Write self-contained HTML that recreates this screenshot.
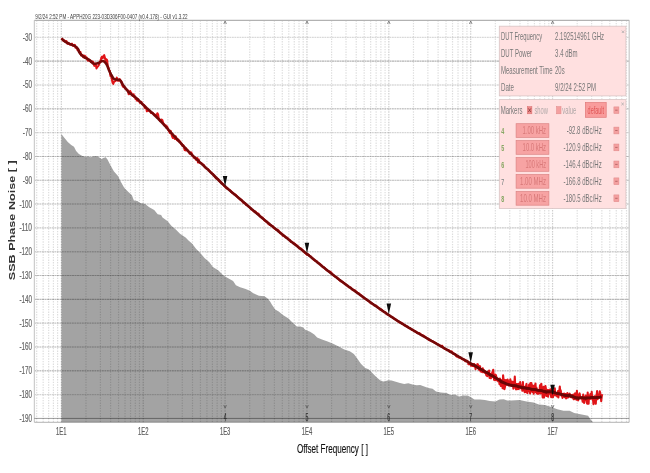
<!DOCTYPE html>
<html><head><meta charset="utf-8"><title>Phase Noise</title>
<style>html,body{margin:0;padding:0;background:#fff;}body{width:650px;height:473px;overflow:hidden;font-family:"Liberation Sans",sans-serif;}svg{display:block;filter:blur(0.6px);}text{font-family:"Liberation Sans",sans-serif;}</style></head><body>
<svg width="650" height="473" viewBox="0 0 650 473">
<rect x="0" y="0" width="650" height="473" fill="#ffffff"/>
<path d="M61.4 422.3 L61.4 133.9 L64.3 137.8 L67.8 141.9 L71.2 145.0 L74.0 146.8 L76.1 151.0 L78.9 154.1 L82.4 155.9 L85.9 157.0 L88.0 156.5 L90.8 157.3 L94.3 156.3 L97.0 156.3 L99.8 157.7 L101.5 159.0 L103.3 158.0 L105.7 157.3 L107.5 159.4 L110.3 165.0 L113.8 171.2 L118.0 176.1 L120.8 181.7 L124.2 187.7 L128.4 191.9 L131.9 195.3 L133.9 200.6 L137.4 200.9 L140.2 203.0 L145.1 204.0 L149.3 207.2 L154.2 210.0 L157.7 214.2 L161.1 214.9 L162.5 217.4 L167.4 221.1 L171.6 226.0 L175.8 229.5 L180.0 233.7 L185.6 237.5 L188.5 240.6 L192.0 243.4 L196.2 248.9 L200.3 253.1 L204.5 258.0 L209.4 262.2 L212.9 267.1 L218.5 270.6 L223.4 275.4 L228.2 278.2 L233.1 281.0 L235.9 285.2 L240.1 287.3 L245.0 288.7 L249.9 290.8 L253.3 293.3 L258.9 295.7 L264.5 296.2 L267.3 298.2 L270.1 301.5 L271.8 304.6 L275.2 309.5 L278.7 311.6 L282.9 315.1 L288.5 318.6 L292.7 322.8 L296.9 326.5 L300.4 326.5 L303.1 327.4 L305.2 329.7 L310.1 331.8 L314.3 334.6 L317.1 337.4 L322.0 339.5 L327.6 341.6 L333.1 343.7 L338.7 346.5 L344.3 349.5 L349.8 351.2 L353.9 353.9 L357.4 358.8 L360.9 363.7 L365.1 367.9 L368.6 369.3 L372.1 372.8 L376.3 377.0 L380.4 380.4 L383.2 381.6 L386.0 381.1 L388.1 380.2 L391.6 380.4 L395.8 381.8 L400.0 383.0 L404.2 383.9 L408.3 383.2 L412.5 384.4 L416.7 385.3 L420.2 385.0 L424.2 386.5 L428.4 387.9 L432.6 388.8 L436.0 391.6 L440.9 392.6 L446.5 393.0 L450.7 395.1 L454.9 394.4 L459.1 396.5 L463.2 395.4 L468.1 395.8 L470.9 397.2 L474.4 399.6 L480.0 399.6 L484.9 400.0 L489.7 401.0 L495.3 401.4 L499.5 399.6 L503.7 399.2 L507.2 400.4 L511.2 400.5 L519.6 400.0 L526.5 401.5 L533.5 402.6 L538.8 404.6 L545.0 405.1 L551.2 406.9 L557.3 409.2 L563.5 410.8 L569.6 410.8 L574.2 413.1 L580.4 414.3 L588.1 415.8 L590.4 419.2 L593.0 422.3 Z" fill="#a3a3a3"/>
<defs><filter id="gb" x="-2%" y="-2%" width="104%" height="104%"><feGaussianBlur stdDeviation="0.4"/></filter></defs>
<g filter="url(#gb)"><line x1="34.4" y1="37.35" x2="629.2" y2="37.35" stroke="#000" stroke-opacity="0.15" stroke-width="1.4" stroke-dasharray="1.9 0.6"/><line x1="34.4" y1="61.17" x2="629.2" y2="61.17" stroke="#000" stroke-opacity="0.3" stroke-width="1.1" stroke-dasharray="2.1 0.4"/><line x1="34.4" y1="84.98" x2="629.2" y2="84.98" stroke="#000" stroke-opacity="0.15" stroke-width="1.4" stroke-dasharray="1.9 0.6"/><line x1="34.4" y1="108.80" x2="629.2" y2="108.80" stroke="#000" stroke-opacity="0.22" stroke-width="1.4" stroke-dasharray="1.9 0.6"/><line x1="34.4" y1="132.61" x2="629.2" y2="132.61" stroke="#000" stroke-opacity="0.16" stroke-width="1.4" stroke-dasharray="1.9 0.6"/><line x1="34.4" y1="156.43" x2="629.2" y2="156.43" stroke="#000" stroke-opacity="0.27" stroke-width="1.1" stroke-dasharray="2.1 0.4"/><line x1="34.4" y1="180.25" x2="629.2" y2="180.25" stroke="#000" stroke-opacity="0.27" stroke-width="1.1" stroke-dasharray="2.1 0.4"/><line x1="34.4" y1="204.06" x2="629.2" y2="204.06" stroke="#000" stroke-opacity="0.19" stroke-width="1.4" stroke-dasharray="1.9 0.6"/><line x1="34.4" y1="227.88" x2="629.2" y2="227.88" stroke="#000" stroke-opacity="0.22" stroke-width="1.4" stroke-dasharray="1.9 0.6"/><line x1="34.4" y1="251.69" x2="629.2" y2="251.69" stroke="#000" stroke-opacity="0.19" stroke-width="1.4" stroke-dasharray="1.9 0.6"/><line x1="34.4" y1="275.51" x2="629.2" y2="275.51" stroke="#000" stroke-opacity="0.27" stroke-width="1.1" stroke-dasharray="2.1 0.4"/><line x1="34.4" y1="299.33" x2="629.2" y2="299.33" stroke="#000" stroke-opacity="0.27" stroke-width="1.1" stroke-dasharray="2.1 0.4"/><line x1="34.4" y1="323.14" x2="629.2" y2="323.14" stroke="#000" stroke-opacity="0.23" stroke-width="1.4" stroke-dasharray="1.9 0.6"/><line x1="34.4" y1="346.96" x2="629.2" y2="346.96" stroke="#000" stroke-opacity="0.2" stroke-width="1.4" stroke-dasharray="1.9 0.6"/><line x1="34.4" y1="370.77" x2="629.2" y2="370.77" stroke="#000" stroke-opacity="0.23" stroke-width="1.4" stroke-dasharray="1.9 0.6"/><line x1="34.4" y1="394.59" x2="629.2" y2="394.59" stroke="#000" stroke-opacity="0.17" stroke-width="1.4" stroke-dasharray="1.9 0.6"/><line x1="34.4" y1="418.41" x2="629.2" y2="418.41" stroke="#000" stroke-opacity="0.0" stroke-width="1.4" stroke-dasharray="1.9 0.6"/><line x1="36.69" y1="20.3" x2="36.69" y2="422.3" stroke="#000" stroke-opacity="0.13" stroke-width="1.2" stroke-dasharray="1.4 1.2"/><line x1="43.18" y1="20.3" x2="43.18" y2="422.3" stroke="#000" stroke-opacity="0.13" stroke-width="1.2" stroke-dasharray="1.4 1.2"/><line x1="48.66" y1="20.3" x2="48.66" y2="422.3" stroke="#000" stroke-opacity="0.13" stroke-width="1.2" stroke-dasharray="1.4 1.2"/><line x1="53.41" y1="20.3" x2="53.41" y2="422.3" stroke="#000" stroke-opacity="0.13" stroke-width="1.2" stroke-dasharray="1.4 1.2"/><line x1="57.59" y1="20.3" x2="57.59" y2="422.3" stroke="#000" stroke-opacity="0.13" stroke-width="1.2" stroke-dasharray="1.4 1.2"/><line x1="61.34" y1="20.3" x2="61.34" y2="422.3" stroke="#000" stroke-opacity="0.19" stroke-width="1.2" stroke-dasharray="1.5 1.1"/><line x1="85.99" y1="20.3" x2="85.99" y2="422.3" stroke="#000" stroke-opacity="0.13" stroke-width="1.2" stroke-dasharray="1.4 1.2"/><line x1="100.40" y1="20.3" x2="100.40" y2="422.3" stroke="#000" stroke-opacity="0.13" stroke-width="1.2" stroke-dasharray="1.4 1.2"/><line x1="110.63" y1="20.3" x2="110.63" y2="422.3" stroke="#000" stroke-opacity="0.13" stroke-width="1.2" stroke-dasharray="1.4 1.2"/><line x1="118.56" y1="20.3" x2="118.56" y2="422.3" stroke="#000" stroke-opacity="0.13" stroke-width="1.2" stroke-dasharray="1.4 1.2"/><line x1="125.05" y1="20.3" x2="125.05" y2="422.3" stroke="#000" stroke-opacity="0.13" stroke-width="1.2" stroke-dasharray="1.4 1.2"/><line x1="130.53" y1="20.3" x2="130.53" y2="422.3" stroke="#000" stroke-opacity="0.13" stroke-width="1.2" stroke-dasharray="1.4 1.2"/><line x1="135.28" y1="20.3" x2="135.28" y2="422.3" stroke="#000" stroke-opacity="0.13" stroke-width="1.2" stroke-dasharray="1.4 1.2"/><line x1="139.46" y1="20.3" x2="139.46" y2="422.3" stroke="#000" stroke-opacity="0.13" stroke-width="1.2" stroke-dasharray="1.4 1.2"/><line x1="143.21" y1="20.3" x2="143.21" y2="422.3" stroke="#000" stroke-opacity="0.19" stroke-width="1.2" stroke-dasharray="1.5 1.1"/><line x1="167.86" y1="20.3" x2="167.86" y2="422.3" stroke="#000" stroke-opacity="0.13" stroke-width="1.2" stroke-dasharray="1.4 1.2"/><line x1="182.27" y1="20.3" x2="182.27" y2="422.3" stroke="#000" stroke-opacity="0.13" stroke-width="1.2" stroke-dasharray="1.4 1.2"/><line x1="192.50" y1="20.3" x2="192.50" y2="422.3" stroke="#000" stroke-opacity="0.13" stroke-width="1.2" stroke-dasharray="1.4 1.2"/><line x1="200.43" y1="20.3" x2="200.43" y2="422.3" stroke="#000" stroke-opacity="0.13" stroke-width="1.2" stroke-dasharray="1.4 1.2"/><line x1="206.92" y1="20.3" x2="206.92" y2="422.3" stroke="#000" stroke-opacity="0.13" stroke-width="1.2" stroke-dasharray="1.4 1.2"/><line x1="212.40" y1="20.3" x2="212.40" y2="422.3" stroke="#000" stroke-opacity="0.13" stroke-width="1.2" stroke-dasharray="1.4 1.2"/><line x1="217.15" y1="20.3" x2="217.15" y2="422.3" stroke="#000" stroke-opacity="0.13" stroke-width="1.2" stroke-dasharray="1.4 1.2"/><line x1="221.33" y1="20.3" x2="221.33" y2="422.3" stroke="#000" stroke-opacity="0.13" stroke-width="1.2" stroke-dasharray="1.4 1.2"/><line x1="225.08" y1="20.3" x2="225.08" y2="422.3" stroke="#000" stroke-opacity="0.19" stroke-width="1.2" stroke-dasharray="1.5 1.1"/><line x1="249.73" y1="20.3" x2="249.73" y2="422.3" stroke="#000" stroke-opacity="0.13" stroke-width="1.2" stroke-dasharray="1.4 1.2"/><line x1="264.14" y1="20.3" x2="264.14" y2="422.3" stroke="#000" stroke-opacity="0.13" stroke-width="1.2" stroke-dasharray="1.4 1.2"/><line x1="274.37" y1="20.3" x2="274.37" y2="422.3" stroke="#000" stroke-opacity="0.13" stroke-width="1.2" stroke-dasharray="1.4 1.2"/><line x1="282.30" y1="20.3" x2="282.30" y2="422.3" stroke="#000" stroke-opacity="0.13" stroke-width="1.2" stroke-dasharray="1.4 1.2"/><line x1="288.79" y1="20.3" x2="288.79" y2="422.3" stroke="#000" stroke-opacity="0.13" stroke-width="1.2" stroke-dasharray="1.4 1.2"/><line x1="294.27" y1="20.3" x2="294.27" y2="422.3" stroke="#000" stroke-opacity="0.13" stroke-width="1.2" stroke-dasharray="1.4 1.2"/><line x1="299.02" y1="20.3" x2="299.02" y2="422.3" stroke="#000" stroke-opacity="0.13" stroke-width="1.2" stroke-dasharray="1.4 1.2"/><line x1="303.20" y1="20.3" x2="303.20" y2="422.3" stroke="#000" stroke-opacity="0.13" stroke-width="1.2" stroke-dasharray="1.4 1.2"/><line x1="306.95" y1="20.3" x2="306.95" y2="422.3" stroke="#000" stroke-opacity="0.19" stroke-width="1.2" stroke-dasharray="1.5 1.1"/><line x1="331.60" y1="20.3" x2="331.60" y2="422.3" stroke="#000" stroke-opacity="0.13" stroke-width="1.2" stroke-dasharray="1.4 1.2"/><line x1="346.01" y1="20.3" x2="346.01" y2="422.3" stroke="#000" stroke-opacity="0.13" stroke-width="1.2" stroke-dasharray="1.4 1.2"/><line x1="356.24" y1="20.3" x2="356.24" y2="422.3" stroke="#000" stroke-opacity="0.13" stroke-width="1.2" stroke-dasharray="1.4 1.2"/><line x1="364.17" y1="20.3" x2="364.17" y2="422.3" stroke="#000" stroke-opacity="0.13" stroke-width="1.2" stroke-dasharray="1.4 1.2"/><line x1="370.66" y1="20.3" x2="370.66" y2="422.3" stroke="#000" stroke-opacity="0.13" stroke-width="1.2" stroke-dasharray="1.4 1.2"/><line x1="376.14" y1="20.3" x2="376.14" y2="422.3" stroke="#000" stroke-opacity="0.13" stroke-width="1.2" stroke-dasharray="1.4 1.2"/><line x1="380.89" y1="20.3" x2="380.89" y2="422.3" stroke="#000" stroke-opacity="0.13" stroke-width="1.2" stroke-dasharray="1.4 1.2"/><line x1="385.07" y1="20.3" x2="385.07" y2="422.3" stroke="#000" stroke-opacity="0.13" stroke-width="1.2" stroke-dasharray="1.4 1.2"/><line x1="388.82" y1="20.3" x2="388.82" y2="422.3" stroke="#000" stroke-opacity="0.19" stroke-width="1.2" stroke-dasharray="1.5 1.1"/><line x1="413.47" y1="20.3" x2="413.47" y2="422.3" stroke="#000" stroke-opacity="0.13" stroke-width="1.2" stroke-dasharray="1.4 1.2"/><line x1="427.88" y1="20.3" x2="427.88" y2="422.3" stroke="#000" stroke-opacity="0.13" stroke-width="1.2" stroke-dasharray="1.4 1.2"/><line x1="438.11" y1="20.3" x2="438.11" y2="422.3" stroke="#000" stroke-opacity="0.13" stroke-width="1.2" stroke-dasharray="1.4 1.2"/><line x1="446.04" y1="20.3" x2="446.04" y2="422.3" stroke="#000" stroke-opacity="0.13" stroke-width="1.2" stroke-dasharray="1.4 1.2"/><line x1="452.53" y1="20.3" x2="452.53" y2="422.3" stroke="#000" stroke-opacity="0.13" stroke-width="1.2" stroke-dasharray="1.4 1.2"/><line x1="458.01" y1="20.3" x2="458.01" y2="422.3" stroke="#000" stroke-opacity="0.13" stroke-width="1.2" stroke-dasharray="1.4 1.2"/><line x1="462.76" y1="20.3" x2="462.76" y2="422.3" stroke="#000" stroke-opacity="0.13" stroke-width="1.2" stroke-dasharray="1.4 1.2"/><line x1="466.94" y1="20.3" x2="466.94" y2="422.3" stroke="#000" stroke-opacity="0.13" stroke-width="1.2" stroke-dasharray="1.4 1.2"/><line x1="470.69" y1="20.3" x2="470.69" y2="422.3" stroke="#000" stroke-opacity="0.19" stroke-width="1.2" stroke-dasharray="1.5 1.1"/><line x1="495.34" y1="20.3" x2="495.34" y2="422.3" stroke="#000" stroke-opacity="0.13" stroke-width="1.2" stroke-dasharray="1.4 1.2"/><line x1="509.75" y1="20.3" x2="509.75" y2="422.3" stroke="#000" stroke-opacity="0.13" stroke-width="1.2" stroke-dasharray="1.4 1.2"/><line x1="519.98" y1="20.3" x2="519.98" y2="422.3" stroke="#000" stroke-opacity="0.13" stroke-width="1.2" stroke-dasharray="1.4 1.2"/><line x1="527.91" y1="20.3" x2="527.91" y2="422.3" stroke="#000" stroke-opacity="0.13" stroke-width="1.2" stroke-dasharray="1.4 1.2"/><line x1="534.40" y1="20.3" x2="534.40" y2="422.3" stroke="#000" stroke-opacity="0.13" stroke-width="1.2" stroke-dasharray="1.4 1.2"/><line x1="539.88" y1="20.3" x2="539.88" y2="422.3" stroke="#000" stroke-opacity="0.13" stroke-width="1.2" stroke-dasharray="1.4 1.2"/><line x1="544.63" y1="20.3" x2="544.63" y2="422.3" stroke="#000" stroke-opacity="0.13" stroke-width="1.2" stroke-dasharray="1.4 1.2"/><line x1="548.81" y1="20.3" x2="548.81" y2="422.3" stroke="#000" stroke-opacity="0.13" stroke-width="1.2" stroke-dasharray="1.4 1.2"/><line x1="552.56" y1="20.3" x2="552.56" y2="422.3" stroke="#000" stroke-opacity="0.19" stroke-width="1.2" stroke-dasharray="1.5 1.1"/><line x1="577.21" y1="20.3" x2="577.21" y2="422.3" stroke="#000" stroke-opacity="0.13" stroke-width="1.2" stroke-dasharray="1.4 1.2"/><line x1="591.62" y1="20.3" x2="591.62" y2="422.3" stroke="#000" stroke-opacity="0.13" stroke-width="1.2" stroke-dasharray="1.4 1.2"/><line x1="601.85" y1="20.3" x2="601.85" y2="422.3" stroke="#000" stroke-opacity="0.13" stroke-width="1.2" stroke-dasharray="1.4 1.2"/><line x1="609.78" y1="20.3" x2="609.78" y2="422.3" stroke="#000" stroke-opacity="0.13" stroke-width="1.2" stroke-dasharray="1.4 1.2"/><line x1="616.27" y1="20.3" x2="616.27" y2="422.3" stroke="#000" stroke-opacity="0.13" stroke-width="1.2" stroke-dasharray="1.4 1.2"/><line x1="621.75" y1="20.3" x2="621.75" y2="422.3" stroke="#000" stroke-opacity="0.13" stroke-width="1.2" stroke-dasharray="1.4 1.2"/><line x1="626.50" y1="20.3" x2="626.50" y2="422.3" stroke="#000" stroke-opacity="0.13" stroke-width="1.2" stroke-dasharray="1.4 1.2"/></g>
<path d="M34.4 422.3 L34.4 20.3 M629.2 20.3 L629.2 422.3" fill="none" stroke="#cdcdcd" stroke-width="1.3"/>
<path d="M34.4 20.3 L629.2 20.3" fill="none" stroke="#b2b2b2" stroke-width="1.2"/>
<line x1="34.4" y1="422.3" x2="629.2" y2="422.3" stroke="#000" stroke-opacity="0.3" stroke-width="1"/>
<line x1="34.4" y1="418.41" x2="629.2" y2="418.41" stroke="#000" stroke-opacity="0.38" stroke-width="1"/>
<path d="M61.5 39.9 L62.2 38.8 L62.9 39.9 L63.6 40.8 L64.3 40.4 L65.0 41.5 L65.7 42.0 L66.4 41.0 L67.1 43.6 L67.8 43.6 L68.5 42.9 L69.2 43.6 L69.9 44.5 L70.6 44.2 L71.3 44.5 L72.0 43.7 L72.7 45.6 L73.4 45.5 L74.1 45.9 L74.8 44.8 L75.5 47.8 L76.2 47.1 L76.9 47.4 L77.6 50.2 L78.3 49.8 L79.0 50.6 L79.7 52.6 L80.4 52.0 L81.1 55.4 L81.8 54.9 L82.5 55.2 L83.2 57.2 L83.9 55.5 L84.6 57.8 L85.3 56.1 L86.0 57.6 L86.7 57.5 L87.4 60.0 L88.1 60.6 L88.8 59.4 L89.5 60.8 L90.2 60.6 L90.9 61.9 L91.6 61.5 L92.3 61.5 L93.0 61.9 L93.7 64.1 L94.4 65.8 L95.1 64.7 L95.8 64.6 L96.5 68.4 L97.2 67.0 L97.9 66.5 L98.6 65.5 L99.3 63.6 L100.0 62.2 L100.7 60.2 L101.4 57.7 L102.1 56.7 L102.8 58.1 L103.5 56.5 L104.2 55.2 L104.9 57.8 L105.6 60.7 L106.3 59.3 L107.0 60.0 L107.7 65.5 L108.4 67.5 L109.1 70.2 L109.8 71.0 L110.5 76.1 L111.2 76.4 L111.9 79.2 L112.6 82.7 L113.3 83.8 L114.0 81.6 L114.7 81.4 L115.4 81.1 L116.1 79.6 L116.8 77.7 L117.5 80.5 L118.2 80.8 L118.9 80.4 L119.6 79.0 L120.3 80.3 L121.0 80.8 L121.7 82.4 L122.4 85.5 L123.1 86.8 L123.8 86.7 L124.5 87.6 L125.2 88.6 L125.9 88.8 L126.6 89.6 L127.3 89.7 L128.0 91.2 L128.7 94.3 L129.4 92.3 L130.1 91.0 L130.8 92.3 L131.5 93.3 L132.2 95.4 L132.9 95.9 L133.6 94.3 L134.3 97.1 L135.0 96.4 L135.7 99.2 L136.4 98.4 L137.1 100.8 L137.8 99.0 L138.5 99.9 L139.2 101.2 L139.9 102.8 L140.6 102.8 L141.3 101.9 L142.0 103.8 L142.7 104.4 L143.4 104.6 L144.1 105.1 L144.8 107.9 L145.5 106.9 L146.2 108.1 L146.9 111.2 L147.6 110.6 L148.3 109.9 L149.0 110.9 L149.7 111.2 L150.4 111.7 L151.1 112.9 L151.8 112.9 L152.5 112.7 L153.2 113.6 L153.9 114.1 L154.6 115.4 L155.3 114.9 L156.0 114.6 L156.7 115.7 L157.4 113.3 L158.1 114.6 L158.8 119.2 L159.5 119.3 L160.2 121.1 L160.9 120.4 L161.6 119.5 L162.3 120.0 L163.0 122.5 L163.7 124.1 L164.4 124.5 L165.1 125.7 L165.8 125.4 L166.5 127.6 L167.2 126.7 L167.9 128.9 L168.6 130.5 L169.3 131.7 L170.0 133.0 L170.7 130.9 L171.4 134.0 L172.1 136.1 L172.8 137.9 L173.5 137.1 L174.2 137.8 L174.9 138.8 L175.6 136.3 L176.3 138.7 L177.0 140.1 L177.7 139.2 L178.4 141.1 L179.1 140.4 L179.8 141.4 L180.5 142.2 L181.2 143.8 L181.9 144.3 L182.6 146.0 L183.3 145.2 L184.0 147.3 L184.7 150.1 L185.4 150.4 L186.1 148.3 L186.8 150.3 L187.5 150.0 L188.2 151.5 L188.9 152.1 L189.6 153.6 L190.3 153.4 L191.0 152.3 L191.7 153.4 L192.4 156.0 L193.1 155.8 L193.8 157.7 L194.5 157.6 L195.2 157.3 L195.9 159.6 L196.6 158.6 L197.3 158.1 L198.0 162.4 L198.7 159.5 L199.4 162.4 L200.1 163.0 L200.8 163.0 L201.5 163.3 L202.2 164.2 L202.9 164.4 L203.6 164.8 L204.3 166.0 L205.0 167.2 L205.7 168.0 L206.4 168.5 L207.1 168.8 L207.8 169.2 L208.5 169.7 L209.2 170.6 L209.9 171.6 L210.6 172.3 L211.3 172.9 L212.0 173.3 L212.7 173.9 L213.4 174.8 L214.1 175.7 L214.8 176.6 L215.5 177.5 L216.2 178.4 L216.9 178.6 L217.6 178.8 L218.3 179.4 L219.0 180.5 L219.7 181.3 L220.4 181.8 L221.1 182.6 L221.8 183.5 L222.5 183.9 L223.2 184.6 L223.9 185.5 L224.6 186.2 L225.3 186.9 L226.0 187.9 L226.7 188.4 L227.4 188.4 L228.1 188.8 L228.8 189.6 L229.5 189.9 L230.2 190.3 L230.9 191.5 L231.6 192.4 L232.3 192.6 L233.0 193.1 L233.7 193.9 L234.4 194.3 L235.1 194.5 L235.8 194.9 L236.5 195.7 L237.2 196.5 L237.9 197.2 L238.6 198.0 L239.3 198.7 L240.0 199.3 L240.7 199.5 L241.4 199.8 L242.1 200.8 L242.8 201.9 L243.5 202.7 L244.2 202.8 L244.9 202.8 L245.6 203.9 L246.3 205.1 L247.0 205.3 L247.7 205.6 L248.4 206.2 L249.1 206.9 L249.8 207.6 L250.5 208.5 L251.2 209.3 L251.9 209.6 L252.6 209.8 L253.3 210.8 L254.0 211.4 L254.7 211.6 L255.4 211.6 L256.1 212.2 L256.8 213.3 L257.5 213.7 L258.2 213.5 L258.9 214.2 L259.6 215.6 L260.3 216.7 L261.0 217.2 L261.7 217.6 L262.4 217.6 L263.1 218.2 L263.8 219.5 L264.5 220.3 L265.2 220.8 L265.9 221.4 L266.6 221.5 L267.3 222.1 L268.0 223.4 L268.7 224.2 L269.4 224.6 L270.1 225.0 L270.8 225.3 L271.5 225.7 L272.2 226.0 L272.9 226.3 L273.6 227.4 L274.3 228.3 L275.0 228.6 L275.7 229.3 L276.4 229.9 L277.1 229.8 L277.8 229.9 L278.5 230.6 L279.2 231.6 L279.9 232.8 L280.6 233.3 L281.3 233.3 L282.0 234.3 L282.7 235.6 L283.4 235.5 L284.1 235.5 L284.8 236.5 L285.5 237.3 L286.2 237.6 L286.9 237.6 L287.6 238.2 L288.3 239.2 L289.0 239.6 L289.7 240.0 L290.4 241.2 L291.1 241.9 L291.8 242.0 L292.5 242.5 L293.2 243.0 L293.9 243.2 L294.6 243.7 L295.3 244.4 L296.0 244.9 L296.7 245.5 L297.4 245.9 L298.1 246.6 L298.8 247.8 L299.5 248.5 L300.2 248.4 L300.9 248.6 L301.6 249.2 L302.3 249.8 L303.0 250.6 L303.7 251.5 L304.4 252.3 L305.1 252.8 L305.8 253.3 L306.5 254.3 L307.2 254.9 L307.9 254.6 L308.6 254.6 L309.3 255.5 L310.0 256.1 L310.7 256.4 L311.4 257.2 L312.1 257.9 L312.8 258.5 L313.5 259.3 L314.2 260.0 L314.9 260.3 L315.6 260.8 L316.3 261.2 L317.0 261.7 L317.7 262.6 L318.4 263.2 L319.1 263.4 L319.8 263.8 L320.5 264.5 L321.2 265.1 L321.9 266.0 L322.6 267.0 L323.3 267.2 L324.0 267.2 L324.7 267.9 L325.4 268.9 L326.1 269.6 L326.8 270.2 L327.5 270.8 L328.2 271.1 L328.9 271.4 L329.6 271.5 L330.3 271.7 L331.0 272.5 L331.7 273.6 L332.4 274.3 L333.1 274.9 L333.8 275.5 L334.5 276.1 L335.2 276.6 L335.9 276.9 L336.6 277.2 L337.3 277.8 L338.0 278.7 L338.7 279.3 L339.4 280.0 L340.1 280.8 L340.8 281.2 L341.5 281.5 L342.2 281.8 L342.9 282.1 L343.6 282.8 L344.3 283.3 L345.0 283.7 L345.7 284.4 L346.4 285.0 L347.1 285.5 L347.8 286.0 L348.5 286.8 L349.2 287.3 L349.9 287.3 L350.6 287.5 L351.3 288.4 L352.0 289.2 L352.7 289.5 L353.4 289.9 L354.1 290.3 L354.8 290.4 L355.5 290.9 L356.2 291.7 L356.9 292.4 L357.6 292.8 L358.3 293.2 L359.0 293.7 L359.7 294.2 L360.4 294.9 L361.1 295.4 L361.8 295.9 L362.5 296.5 L363.2 297.3 L363.9 297.8 L364.6 298.3 L365.3 298.7 L366.0 299.1 L366.7 299.7 L367.4 300.3 L368.1 300.7 L368.8 301.0 L369.5 301.6 L370.2 302.5 L370.9 303.2 L371.6 303.3 L372.3 303.6 L373.0 304.2 L373.7 304.8 L374.4 305.4 L375.1 305.6 L375.8 305.5 L376.5 306.0 L377.2 306.8 L377.9 307.3 L378.6 307.8 L379.3 308.4 L380.0 309.4 L380.7 309.7 L381.4 309.5 L382.1 310.1 L382.8 311.0 L383.5 311.4 L384.2 311.7 L384.9 311.9 L385.6 312.6 L386.3 313.6 L387.0 314.2 L387.7 314.4 L388.4 314.6 L389.1 315.1 L389.8 315.7 L390.5 316.3 L391.2 316.7 L391.9 317.0 L392.6 317.4 L393.3 317.9 L394.0 318.7 L394.7 319.2 L395.4 319.3 L396.1 319.7 L396.8 320.3 L397.5 321.0 L398.2 321.5 L398.9 321.8 L399.6 322.3 L400.3 322.5 L401.0 322.7 L401.7 323.2 L402.4 323.7 L403.1 324.2 L403.8 324.6 L404.5 325.1 L405.2 325.8 L405.9 326.2 L406.6 326.2 L407.3 326.5 L408.0 327.4 L408.7 328.0 L409.4 328.0 L410.1 328.2 L410.8 329.0 L411.5 329.5 L412.2 329.5 L412.9 330.0 L413.6 330.4 L414.3 330.8 L415.0 331.2 L415.7 331.6 L416.4 332.2 L417.1 333.0 L417.8 333.1 L418.5 333.0 L419.2 333.1 L419.9 333.5 L420.6 334.2 L421.3 335.1 L422.0 335.4 L422.7 335.4 L423.4 335.6 L424.1 336.2 L424.8 336.7 L425.5 337.3 L426.2 338.0 L426.9 338.1 L427.6 338.4 L428.3 339.2 L429.0 340.0 L429.7 340.3 L430.4 340.3 L431.1 340.6 L431.8 341.2 L432.5 341.6 L433.2 341.8 L433.9 341.9 L434.6 342.2 L435.3 342.8 L436.0 343.3 L436.7 344.0 L437.4 344.3 L438.1 344.4 L438.8 344.8 L439.5 345.3 L440.2 345.9 L440.9 346.3 L441.6 345.8 L442.3 345.9 L443.0 347.2 L443.7 347.9 L444.4 348.4 L445.1 348.9 L445.8 349.3 L446.5 349.7 L447.2 349.7 L447.9 350.0 L448.6 350.1 L449.3 350.6 L450.0 351.7 L450.7 351.9 L451.4 351.3 L452.1 351.8 L452.8 353.3 L453.5 354.0 L454.2 353.9 L454.9 353.8 L455.6 354.7 L456.3 356.2 L457.0 356.7 L457.7 356.7 L458.4 357.2 L459.1 357.6 L459.8 357.7 L460.5 357.8 L461.2 358.3 L461.9 359.0 L462.6 359.3 L463.3 359.1 L464.0 359.4 L464.7 360.5 L465.4 361.3 L466.1 361.0 L466.8 360.6 L467.5 361.6 L468.0 361.5 L468.4 364.1 L468.9 363.4 L469.3 364.1 L469.8 363.3 L470.2 362.6 L470.7 364.9 L471.1 365.7 L471.6 364.7 L472.0 364.2 L472.5 365.9 L472.9 364.3 L473.4 366.1 L473.8 364.3 L474.3 364.1 L474.7 366.6 L475.2 366.6 L475.6 369.2 L476.1 366.1 L476.5 366.8 L477.0 365.2 L477.4 364.2 L477.9 364.5 L478.3 368.6 L478.8 365.9 L479.2 369.9 L479.7 369.6 L480.1 366.4 L480.6 371.5 L481.0 369.7 L481.5 371.8 L481.9 369.4 L482.4 372.1 L482.8 368.4 L483.3 371.9 L483.7 369.9 L484.2 370.8 L484.6 372.8 L485.1 372.0 L485.5 371.7 L486.0 374.0 L486.4 375.4 L486.9 371.8 L487.3 376.1 L487.8 375.3 L488.2 371.6 L488.7 374.7 L489.1 370.6 L489.6 378.0 L490.0 373.9 L490.5 374.5 L490.9 378.3 L491.4 374.9 L491.8 377.1 L492.3 372.1 L492.7 371.9 L493.2 369.7 L493.6 375.1 L494.1 379.8 L494.5 377.8 L495.0 380.1 L495.4 374.6 L495.9 375.2 L496.3 376.8 L496.8 380.3 L497.2 379.9 L497.7 379.0 L498.1 381.2 L498.6 379.1 L499.0 379.8 L499.5 384.1 L499.9 378.5 L500.4 381.2 L500.8 385.9 L501.3 381.5 L501.7 383.7 L502.2 379.9 L502.6 388.1 L503.1 375.3 L503.5 379.1 L504.0 379.7 L504.4 389.3 L504.9 387.2 L505.3 384.7 L505.8 380.1 L506.2 384.9 L506.7 384.2 L507.1 381.8 L507.6 379.5 L508.0 380.8 L508.5 385.0 L508.9 385.5 L509.4 384.8 L509.8 384.3 L510.3 379.4 L510.7 385.0 L511.2 381.3 L511.6 382.8 L512.1 383.3 L512.5 381.7 L513.0 382.1 L513.4 388.6 L513.9 386.7 L514.3 383.7 L514.8 376.5 L515.2 385.7 L515.7 387.9 L516.1 389.5 L516.6 384.0 L517.0 384.2 L517.5 384.9 L517.9 389.1 L518.4 383.9 L518.8 389.0 L519.3 386.1 L519.7 388.2 L520.2 382.0 L520.6 388.1 L521.1 385.4 L521.5 386.4 L522.0 388.8 L522.4 390.8 L522.9 382.1 L523.3 390.5 L523.8 389.3 L524.2 386.7 L524.7 392.1 L525.1 388.4 L525.6 391.9 L526.0 385.9 L526.5 383.9 L526.9 389.0 L527.4 393.0 L527.8 389.9 L528.3 391.2 L528.7 387.1 L529.2 384.5 L529.6 388.0 L530.1 393.4 L530.5 383.1 L531.0 387.4 L531.4 383.1 L531.9 389.5 L532.3 391.9 L532.8 385.5 L533.2 388.1 L533.7 393.6 L534.1 389.3 L534.6 385.8 L535.0 385.6 L535.5 383.6 L535.9 392.3 L536.4 387.6 L536.8 393.4 L537.3 393.7 L537.7 391.1 L538.2 391.7 L538.6 393.8 L539.1 391.0 L539.5 391.3 L540.0 385.4 L540.4 393.4 L540.9 387.9 L541.3 383.7 L541.8 388.9 L542.2 392.2 L542.7 397.4 L543.1 389.8 L543.6 386.9 L544.0 397.5 L544.5 390.2 L544.9 387.5 L545.4 386.1 L545.8 387.9 L546.3 396.0 L546.7 390.7 L547.2 389.9 L547.6 390.1 L548.1 396.6 L548.5 390.0 L549.0 393.8 L549.4 392.8 L549.9 392.8 L550.3 389.4 L550.8 394.2 L551.2 397.2 L551.7 392.2 L552.1 390.1 L552.6 391.1 L553.0 397.2 L553.5 393.9 L553.9 392.8 L554.4 392.9 L554.8 388.4 L555.3 395.5 L555.7 393.9 L556.2 393.1 L556.6 394.1 L557.1 396.4 L557.5 393.8 L558.0 391.1 L558.4 397.4 L558.9 392.5 L559.3 390.8 L559.8 386.6 L560.2 391.7 L560.7 390.3 L561.1 392.7 L561.6 395.9 L562.0 394.7 L562.5 397.9 L562.9 395.8 L563.4 393.7 L563.8 394.0 L564.3 393.6 L564.7 397.2 L565.2 395.4 L565.6 394.1 L566.1 398.5 L566.5 397.9 L567.0 397.7 L567.4 393.0 L567.9 397.5 L568.3 396.7 L568.8 396.2 L569.2 394.7 L569.7 393.6 L570.1 395.6 L570.6 397.1 L571.0 396.1 L571.5 396.1 L571.9 395.2 L572.4 397.8 L572.8 397.6 L573.3 394.6 L573.7 399.3 L574.2 399.0 L574.6 397.2 L575.1 393.4 L575.5 395.2 L576.0 393.6 L576.4 399.8 L576.9 390.9 L577.3 396.4 L577.8 396.6 L578.2 400.4 L578.7 397.8 L579.1 394.8 L579.6 393.4 L580.0 395.6 L580.5 398.2 L580.9 398.2 L581.4 398.4 L581.8 398.6 L582.3 399.6 L582.7 401.7 L583.2 394.6 L583.6 398.0 L584.1 403.0 L584.5 399.6 L585.0 396.5 L585.4 400.0 L585.9 395.6 L586.3 397.9 L586.8 402.7 L587.2 403.7 L587.7 392.6 L588.1 400.0 L588.6 403.8 L589.0 395.8 L589.5 396.8 L589.9 399.0 L590.4 394.0 L590.8 398.7 L591.3 397.5 L591.7 391.7 L592.2 398.7 L592.6 397.1 L593.1 400.5 L593.5 404.1 L594.0 399.7 L594.4 396.4 L594.9 399.0 L595.3 399.2 L595.8 403.8 L596.2 395.9 L596.7 394.7 L597.1 391.1 L597.6 399.2 L598.0 397.2 L598.5 395.2 L598.9 394.8 L599.4 394.2 L599.8 391.4 L600.3 393.6 L600.7 394.7 L601.2 401.1 L601.6 397.7 L602.1 394.1" fill="none" stroke="#e01418" stroke-width="2.1" stroke-linejoin="round"/>
<path d="M61.5 38.6 L62.0 39.0 L62.5 39.5 L63.0 39.9 L63.5 40.4 L64.0 40.8 L64.5 41.2 L65.0 41.5 L65.5 41.9 L66.0 42.2 L66.5 42.4 L67.0 42.7 L67.5 43.0 L68.0 43.2 L68.5 43.4 L69.0 43.7 L69.5 43.9 L70.0 44.1 L70.5 44.3 L71.0 44.5 L71.5 44.7 L72.0 44.9 L72.5 45.1 L73.0 45.2 L73.5 45.4 L74.0 45.6 L74.5 45.9 L75.0 46.1 L75.5 46.5 L76.0 46.8 L76.5 47.3 L77.0 47.8 L77.5 48.4 L78.0 49.1 L78.5 50.3 L79.0 51.7 L79.5 52.6 L80.0 53.3 L80.5 53.9 L81.0 54.5 L81.5 55.0 L82.0 55.4 L82.5 55.8 L83.0 56.2 L83.5 56.6 L84.0 56.9 L84.5 57.3 L85.0 57.6 L85.5 57.8 L86.0 58.1 L86.5 58.4 L87.0 58.6 L87.5 58.9 L88.0 59.2 L88.5 59.4 L89.0 59.8 L89.5 60.1 L90.0 60.5 L90.5 61.0 L91.0 61.5 L91.5 62.0 L92.0 62.6 L92.5 63.0 L93.0 63.4 L93.5 63.6 L94.0 63.7 L94.5 63.7 L95.0 63.7 L95.5 63.7 L96.0 63.6 L96.5 63.5 L97.0 63.4 L97.5 63.3 L98.0 63.2 L98.5 63.1 L99.0 62.8 L99.5 62.5 L100.0 62.2 L100.5 61.8 L101.0 61.5 L101.5 61.3 L102.0 61.1 L102.5 61.0 L103.0 61.0 L103.5 61.2 L104.0 61.4 L104.5 61.8 L105.0 62.2 L105.5 62.8 L106.0 63.5 L106.5 64.2 L107.0 65.2 L107.5 66.3 L108.0 67.6 L108.5 68.9 L109.0 70.2 L109.5 71.3 L110.0 72.4 L110.5 73.4 L111.0 74.4 L111.5 75.3 L112.0 76.1 L112.5 77.0 L113.0 77.8 L113.5 78.4 L114.0 78.9 L114.5 79.2 L115.0 79.3 L115.5 79.4 L116.0 79.5 L116.5 79.6 L117.0 79.6 L117.5 79.7 L118.0 79.7 L118.5 79.8 L119.0 79.9 L119.5 80.1 L120.0 80.3 L120.5 80.7 L121.0 81.5 L121.5 82.3 L122.0 83.3 L122.5 84.1 L123.0 84.9 L123.5 85.6 L124.0 86.3 L124.5 86.9 L125.0 87.6 L125.5 88.3 L126.0 88.9 L126.5 89.5 L127.0 90.2 L127.5 90.7 L128.0 91.3 L128.5 91.8 L129.0 92.4 L129.5 92.8 L130.0 93.3 L130.5 93.7 L131.0 94.1 L131.5 94.5 L132.0 94.8 L132.5 95.2 L133.0 95.6 L133.5 95.9 L134.0 96.3 L134.5 96.6 L135.0 97.0 L135.5 97.4 L136.0 97.8 L136.5 98.3 L137.0 98.7 L137.5 99.2 L138.0 99.7 L138.5 100.2 L139.0 100.7 L139.5 101.2 L140.0 101.7 L140.5 102.2 L141.0 102.7 L141.5 103.2 L142.0 103.7 L142.5 104.2 L143.0 104.6 L143.5 105.1 L144.0 105.6 L144.5 106.0 L145.0 106.5 L145.5 107.0 L146.0 107.4 L146.5 107.9 L147.0 108.3 L147.5 108.8 L148.0 109.2 L148.5 109.7 L149.0 110.1 L149.5 110.6 L150.0 111.0 L150.5 111.4 L151.0 111.9 L151.5 112.3 L152.0 112.8 L152.5 113.2 L153.0 113.7 L153.5 114.2 L154.0 114.6 L154.5 115.1 L155.0 115.6 L155.5 116.0 L156.0 116.5 L156.5 117.0 L157.0 117.5 L157.5 118.0 L158.0 118.4 L158.5 119.0 L159.0 119.5 L159.5 120.0 L160.0 120.5 L160.5 121.0 L161.0 121.5 L161.5 122.1 L162.0 122.6 L162.5 123.1 L163.0 123.7 L163.5 124.2 L164.0 124.8 L164.5 125.3 L165.0 125.9 L165.5 126.4 L166.0 127.0 L166.5 127.5 L167.0 128.1 L167.5 128.7 L168.0 129.2 L168.5 129.8 L169.0 130.3 L169.5 130.9 L170.0 131.4 L170.5 132.0 L171.0 132.6 L171.5 133.1 L172.0 133.6 L172.5 134.2 L173.0 134.7 L173.5 135.3 L174.0 135.8 L174.5 136.4 L175.0 136.9 L175.5 137.4 L176.0 138.0 L176.5 138.5 L177.0 139.1 L177.5 139.6 L178.0 140.2 L178.5 140.7 L179.0 141.3 L179.5 141.8 L180.0 142.4 L180.5 142.9 L181.0 143.4 L181.5 144.0 L182.0 144.5 L182.5 145.1 L183.0 145.6 L183.5 146.2 L184.0 146.7 L184.5 147.2 L185.0 147.8 L185.5 148.3 L186.0 148.8 L186.5 149.3 L187.0 149.9 L187.5 150.4 L188.0 150.9 L188.5 151.4 L189.0 151.9 L189.5 152.4 L190.0 153.0 L190.5 153.5 L191.0 153.9 L191.5 154.4 L192.0 154.9 L192.5 155.4 L193.0 155.9 L193.5 156.4 L194.0 156.9 L194.5 157.3 L195.0 157.8 L195.5 158.3 L196.0 158.7 L196.5 159.2 L197.0 159.7 L197.5 160.1 L198.0 160.6 L198.5 161.0 L199.0 161.5 L199.5 161.9 L200.0 162.4 L200.5 162.8 L201.0 163.3 L201.5 163.7 L202.0 164.2 L202.5 164.6 L203.0 165.1 L203.5 165.5 L204.0 166.0 L204.5 166.5 L205.0 166.9 L205.5 167.4 L206.0 167.8 L206.5 168.3 L207.0 168.8 L207.5 169.2 L208.0 169.7 L208.5 170.2 L209.0 170.6 L209.5 171.1 L210.0 171.6 L210.5 172.1 L211.0 172.6 L211.5 173.1 L212.0 173.6 L212.5 174.1 L213.0 174.5 L213.5 175.0 L214.0 175.5 L214.5 176.0 L215.0 176.5 L215.5 177.0 L216.0 177.5 L216.5 178.0 L217.0 178.5 L217.5 179.0 L218.0 179.5 L218.5 180.0 L219.0 180.5 L219.5 181.0 L220.0 181.5 L220.5 182.0 L221.0 182.5 L221.5 183.0 L222.0 183.5 L222.5 183.9 L223.0 184.4 L223.5 184.9 L224.0 185.4 L224.5 185.8 L225.0 186.3 L225.5 186.7 L226.0 187.2 L226.5 187.6 L227.0 188.1 L227.5 188.5 L228.0 188.9 L228.5 189.4 L229.0 189.8 L229.5 190.2 L230.0 190.7 L230.5 191.1 L231.0 191.5 L231.5 191.9 L232.0 192.3 L232.5 192.8 L233.0 193.2 L233.5 193.6 L234.0 194.0 L234.5 194.4 L235.0 194.8 L235.5 195.2 L236.0 195.7 L236.5 196.1 L237.0 196.5 L237.5 196.9 L238.0 197.3 L238.5 197.8 L239.0 198.2 L239.5 198.6 L240.0 199.0 L240.5 199.5 L241.0 199.9 L241.5 200.3 L242.0 200.7 L242.5 201.2 L243.0 201.6 L243.5 202.0 L244.0 202.5 L244.5 202.9 L245.0 203.3 L245.5 203.8 L246.0 204.2 L246.5 204.6 L247.0 205.1 L247.5 205.5 L248.0 205.9 L248.5 206.4 L249.0 206.8 L249.5 207.2 L250.0 207.7 L250.5 208.1 L251.0 208.5 L251.5 209.0 L252.0 209.4 L252.5 209.8 L253.0 210.2 L253.5 210.7 L254.0 211.1 L254.5 211.5 L255.0 212.0 L255.5 212.4 L256.0 212.8 L256.5 213.2 L257.0 213.7 L257.5 214.1 L258.0 214.5 L258.5 214.9 L259.0 215.3 L259.5 215.8 L260.0 216.2 L260.5 216.6 L261.0 217.0 L261.5 217.4 L262.0 217.9 L262.5 218.3 L263.0 218.7 L263.5 219.1 L264.0 219.5 L264.5 219.9 L265.0 220.3 L265.5 220.8 L266.0 221.2 L266.5 221.6 L267.0 222.0 L267.5 222.4 L268.0 222.8 L268.5 223.2 L269.0 223.6 L269.5 224.0 L270.0 224.5 L270.5 224.9 L271.0 225.3 L271.5 225.7 L272.0 226.1 L272.5 226.5 L273.0 226.9 L273.5 227.3 L274.0 227.7 L274.5 228.1 L275.0 228.5 L275.5 228.9 L276.0 229.3 L276.5 229.7 L277.0 230.1 L277.5 230.6 L278.0 231.0 L278.5 231.4 L279.0 231.8 L279.5 232.2 L280.0 232.6 L280.5 233.0 L281.0 233.4 L281.5 233.8 L282.0 234.2 L282.5 234.6 L283.0 235.0 L283.5 235.4 L284.0 235.8 L284.5 236.2 L285.0 236.6 L285.5 237.0 L286.0 237.4 L286.5 237.8 L287.0 238.2 L287.5 238.6 L288.0 239.0 L288.5 239.4 L289.0 239.8 L289.5 240.2 L290.0 240.6 L290.5 241.0 L291.0 241.4 L291.5 241.8 L292.0 242.2 L292.5 242.6 L293.0 243.0 L293.5 243.4 L294.0 243.8 L294.5 244.1 L295.0 244.5 L295.5 244.9 L296.0 245.3 L296.5 245.7 L297.0 246.1 L297.5 246.5 L298.0 246.9 L298.5 247.3 L299.0 247.7 L299.5 248.1 L300.0 248.4 L300.5 248.8 L301.0 249.2 L301.5 249.6 L302.0 250.0 L302.5 250.4 L303.0 250.8 L303.5 251.2 L304.0 251.6 L304.5 252.0 L305.0 252.4 L305.5 252.8 L306.0 253.2 L306.5 253.6 L307.0 253.9 L307.5 254.3 L308.0 254.7 L308.5 255.1 L309.0 255.5 L309.5 255.9 L310.0 256.3 L310.5 256.7 L311.0 257.1 L311.5 257.6 L312.0 258.0 L312.5 258.4 L313.0 258.8 L313.5 259.2 L314.0 259.6 L314.5 260.0 L315.0 260.4 L315.5 260.8 L316.0 261.2 L316.5 261.6 L317.0 262.0 L317.5 262.4 L318.0 262.8 L318.5 263.2 L319.0 263.6 L319.5 264.0 L320.0 264.4 L320.5 264.8 L321.0 265.3 L321.5 265.7 L322.0 266.1 L322.5 266.5 L323.0 266.9 L323.5 267.3 L324.0 267.7 L324.5 268.1 L325.0 268.5 L325.5 268.9 L326.0 269.3 L326.5 269.7 L327.0 270.1 L327.5 270.5 L328.0 270.9 L328.5 271.3 L329.0 271.7 L329.5 272.1 L330.0 272.5 L330.5 272.9 L331.0 273.3 L331.5 273.6 L332.0 274.0 L332.5 274.4 L333.0 274.8 L333.5 275.2 L334.0 275.6 L334.5 276.0 L335.0 276.3 L335.5 276.7 L336.0 277.1 L336.5 277.5 L337.0 277.9 L337.5 278.3 L338.0 278.6 L338.5 279.0 L339.0 279.4 L339.5 279.8 L340.0 280.1 L340.5 280.5 L341.0 280.9 L341.5 281.3 L342.0 281.6 L342.5 282.0 L343.0 282.4 L343.5 282.8 L344.0 283.1 L344.5 283.5 L345.0 283.9 L345.5 284.3 L346.0 284.6 L346.5 285.0 L347.0 285.4 L347.5 285.7 L348.0 286.1 L348.5 286.5 L349.0 286.8 L349.5 287.2 L350.0 287.6 L350.5 287.9 L351.0 288.3 L351.5 288.7 L352.0 289.0 L352.5 289.4 L353.0 289.8 L353.5 290.1 L354.0 290.5 L354.5 290.8 L355.0 291.2 L355.5 291.6 L356.0 291.9 L356.5 292.3 L357.0 292.7 L357.5 293.0 L358.0 293.4 L358.5 293.7 L359.0 294.1 L359.5 294.5 L360.0 294.8 L360.5 295.2 L361.0 295.6 L361.5 295.9 L362.0 296.3 L362.5 296.6 L363.0 297.0 L363.5 297.4 L364.0 297.7 L364.5 298.1 L365.0 298.4 L365.5 298.8 L366.0 299.1 L366.5 299.5 L367.0 299.9 L367.5 300.2 L368.0 300.6 L368.5 300.9 L369.0 301.3 L369.5 301.6 L370.0 302.0 L370.5 302.4 L371.0 302.7 L371.5 303.1 L372.0 303.4 L372.5 303.8 L373.0 304.1 L373.5 304.5 L374.0 304.8 L374.5 305.2 L375.0 305.5 L375.5 305.9 L376.0 306.2 L376.5 306.6 L377.0 306.9 L377.5 307.3 L378.0 307.6 L378.5 308.0 L379.0 308.3 L379.5 308.7 L380.0 309.0 L380.5 309.4 L381.0 309.7 L381.5 310.1 L382.0 310.4 L382.5 310.8 L383.0 311.1 L383.5 311.5 L384.0 311.8 L384.5 312.1 L385.0 312.5 L385.5 312.8 L386.0 313.2 L386.5 313.5 L387.0 313.8 L387.5 314.2 L388.0 314.5 L388.5 314.9 L389.0 315.2 L389.5 315.5 L390.0 315.9 L390.5 316.2 L391.0 316.5 L391.5 316.9 L392.0 317.2 L392.5 317.5 L393.0 317.9 L393.5 318.2 L394.0 318.5 L394.5 318.8 L395.0 319.2 L395.5 319.5 L396.0 319.8 L396.5 320.1 L397.0 320.5 L397.5 320.8 L398.0 321.1 L398.5 321.4 L399.0 321.7 L399.5 322.0 L400.0 322.4 L400.5 322.7 L401.0 323.0 L401.5 323.3 L402.0 323.6 L402.5 323.9 L403.0 324.2 L403.5 324.5 L404.0 324.8 L404.5 325.1 L405.0 325.4 L405.5 325.7 L406.0 326.0 L406.5 326.3 L407.0 326.6 L407.5 326.9 L408.0 327.2 L408.5 327.5 L409.0 327.8 L409.5 328.1 L410.0 328.4 L410.5 328.7 L411.0 329.0 L411.5 329.3 L412.0 329.6 L412.5 329.9 L413.0 330.2 L413.5 330.5 L414.0 330.8 L414.5 331.1 L415.0 331.4 L415.5 331.7 L416.0 331.9 L416.5 332.2 L417.0 332.5 L417.5 332.8 L418.0 333.1 L418.5 333.4 L419.0 333.7 L419.5 334.0 L420.0 334.3 L420.5 334.5 L421.0 334.8 L421.5 335.1 L422.0 335.4 L422.5 335.7 L423.0 336.0 L423.5 336.3 L424.0 336.6 L424.5 336.8 L425.0 337.1 L425.5 337.4 L426.0 337.7 L426.5 338.0 L427.0 338.3 L427.5 338.6 L428.0 338.8 L428.5 339.1 L429.0 339.4 L429.5 339.7 L430.0 340.0 L430.5 340.3 L431.0 340.6 L431.5 340.9 L432.0 341.1 L432.5 341.4 L433.0 341.7 L433.5 342.0 L434.0 342.3 L434.5 342.6 L435.0 342.9 L435.5 343.1 L436.0 343.4 L436.5 343.7 L437.0 344.0 L437.5 344.3 L438.0 344.6 L438.5 344.9 L439.0 345.2 L439.5 345.5 L440.0 345.8 L440.5 346.0 L441.0 346.3 L441.5 346.6 L442.0 346.9 L442.5 347.2 L443.0 347.5 L443.5 347.8 L444.0 348.1 L444.5 348.4 L445.0 348.7 L445.5 348.9 L446.0 349.2 L446.5 349.5 L447.0 349.8 L447.5 350.1 L448.0 350.4 L448.5 350.7 L449.0 351.0 L449.5 351.3 L450.0 351.6 L450.5 351.8 L451.0 352.1 L451.5 352.4 L452.0 352.7 L452.5 353.0 L453.0 353.3 L453.5 353.6 L454.0 353.9 L454.5 354.2 L455.0 354.5 L455.5 354.7 L456.0 355.0 L456.5 355.3 L457.0 355.6 L457.5 355.9 L458.0 356.2 L458.5 356.5 L459.0 356.8 L459.5 357.1 L460.0 357.3 L460.5 357.6 L461.0 357.9 L461.5 358.2 L462.0 358.5 L462.5 358.8 L463.0 359.1 L463.5 359.4 L464.0 359.7 L464.5 359.9 L465.0 360.2 L465.5 360.5 L466.0 360.8 L466.5 361.1 L467.0 361.4 L467.5 361.7 L468.0 361.9 L468.5 362.2 L469.0 362.5 L469.5 362.8 L470.0 363.1 L470.5 363.4 L471.0 363.7 L471.5 363.9 L472.0 364.2 L472.5 364.5 L473.0 364.8 L473.5 365.1 L474.0 365.4 L474.5 365.6 L475.0 365.9 L475.5 366.2 L476.0 366.5 L476.5 366.8 L477.0 367.1 L477.5 367.3 L478.0 367.6 L478.5 367.9 L479.0 368.2 L479.5 368.5 L480.0 368.7 L480.5 369.0 L481.0 369.3 L481.5 369.6 L482.0 369.9 L482.5 370.2 L483.0 370.4 L483.5 370.7 L484.0 371.0 L484.5 371.3 L485.0 371.6 L485.5 371.9 L486.0 372.1 L486.5 372.4 L487.0 372.7 L487.5 373.0 L488.0 373.3 L488.5 373.6 L489.0 373.9 L489.5 374.2 L490.0 374.5 L490.5 374.8 L491.0 375.1 L491.5 375.3 L492.0 375.6 L492.5 375.9 L493.0 376.2 L493.5 376.5 L494.0 376.8 L494.5 377.1 L495.0 377.4 L495.5 377.7 L496.0 378.0 L496.5 378.3 L497.0 378.6 L497.5 378.9 L498.0 379.2 L498.5 379.5 L499.0 379.8 L499.5 380.1 L500.0 380.4 L500.5 380.7 L501.0 381.0 L501.5 381.3 L502.0 381.6 L502.5 382.0 L503.0 382.3 L503.5 382.5 L504.0 382.8 L504.5 383.0 L505.0 383.2 L505.5 383.4 L506.0 383.6 L506.5 383.8 L507.0 383.9 L507.5 384.1 L508.0 384.2 L508.5 384.4 L509.0 384.5 L509.5 384.6 L510.0 384.8 L510.5 384.9 L511.0 385.0 L511.5 385.1 L512.0 385.2 L512.5 385.3 L513.0 385.5 L513.5 385.6 L514.0 385.7 L514.5 385.8 L515.0 385.8 L515.5 385.9 L516.0 386.0 L516.5 386.1 L517.0 386.2 L517.5 386.3 L518.0 386.4 L518.5 386.5 L519.0 386.6 L519.5 386.7 L520.0 386.8 L520.5 386.9 L521.0 387.0 L521.5 387.1 L522.0 387.2 L522.5 387.3 L523.0 387.4 L523.5 387.5 L524.0 387.6 L524.5 387.7 L525.0 387.8 L525.5 387.9 L526.0 388.0 L526.5 388.1 L527.0 388.2 L527.5 388.3 L528.0 388.4 L528.5 388.5 L529.0 388.6 L529.5 388.7 L530.0 388.8 L530.5 388.9 L531.0 389.0 L531.5 389.1 L532.0 389.2 L532.5 389.3 L533.0 389.3 L533.5 389.4 L534.0 389.5 L534.5 389.6 L535.0 389.7 L535.5 389.8 L536.0 389.9 L536.5 390.0 L537.0 390.1 L537.5 390.1 L538.0 390.2 L538.5 390.3 L539.0 390.4 L539.5 390.4 L540.0 390.5 L540.5 390.6 L541.0 390.7 L541.5 390.7 L542.0 390.8 L542.5 390.9 L543.0 391.0 L543.5 391.0 L544.0 391.1 L544.5 391.2 L545.0 391.3 L545.5 391.3 L546.0 391.4 L546.5 391.5 L547.0 391.6 L547.5 391.6 L548.0 391.7 L548.5 391.8 L549.0 391.9 L549.5 392.0 L550.0 392.0 L550.5 392.1 L551.0 392.2 L551.5 392.3 L552.0 392.4 L552.5 392.5 L553.0 392.6 L553.5 392.7 L554.0 392.8 L554.5 392.9 L555.0 393.0 L555.5 393.1 L556.0 393.2 L556.5 393.4 L557.0 393.5 L557.5 393.6 L558.0 393.7 L558.5 393.8 L559.0 393.9 L559.5 394.1 L560.0 394.2 L560.5 394.3 L561.0 394.4 L561.5 394.5 L562.0 394.6 L562.5 394.7 L563.0 394.8 L563.5 395.0 L564.0 395.1 L564.5 395.2 L565.0 395.3 L565.5 395.4 L566.0 395.5 L566.5 395.6 L567.0 395.6 L567.5 395.7 L568.0 395.8 L568.5 395.9 L569.0 396.0 L569.5 396.1 L570.0 396.2 L570.5 396.3 L571.0 396.4 L571.5 396.6 L572.0 396.7 L572.5 396.8 L573.0 396.9 L573.5 397.0 L574.0 397.1 L574.5 397.1 L575.0 397.2 L575.5 397.3 L576.0 397.4 L576.5 397.5 L577.0 397.6 L577.5 397.6 L578.0 397.7 L578.5 397.7 L579.0 397.8 L579.5 397.8 L580.0 397.9 L580.5 397.9 L581.0 397.9 L581.5 397.9 L582.0 398.0 L582.5 397.9 L583.0 397.9 L583.5 397.9 L584.0 397.9 L584.5 397.9 L585.0 397.9 L585.5 397.9 L586.0 397.9 L586.5 397.9 L587.0 397.9 L587.5 397.9 L588.0 397.8 L588.5 397.8 L589.0 397.8 L589.5 397.8 L590.0 397.8 L590.5 397.7 L591.0 397.7 L591.5 397.7 L592.0 397.7 L592.5 397.6 L593.0 397.6 L593.5 397.6 L594.0 397.6 L594.5 397.5 L595.0 397.5 L595.5 397.5 L596.0 397.4 L596.5 397.4 L597.0 397.4 L597.5 397.3 L598.0 397.3 L598.5 397.2 L599.0 397.2 L599.5 397.1 L600.0 397.0 L600.5 396.9 L601.0 396.9 L601.5 396.8" fill="none" stroke="#740808" stroke-width="2.6" stroke-linejoin="round"/>
<path d="M470.0 363.3 L470.5 363.6 L471.0 364.1 L471.5 364.3 L472.0 364.5 L472.5 364.4 L473.0 364.7 L473.5 364.9 L474.0 365.0 L474.5 365.0 L475.0 365.5 L475.5 365.9 L476.0 366.3 L476.5 366.7 L477.0 366.9 L477.5 367.1 L478.0 367.8 L478.5 368.0 L479.0 368.2 L479.5 368.4 L480.0 368.6 L480.5 369.1 L481.0 369.6 L481.5 369.6 L482.0 369.9 L482.5 370.1 L483.0 370.5 L483.5 371.0 L484.0 371.3 L484.5 371.5 L485.0 371.8 L485.5 372.1 L486.0 372.5 L486.5 372.6 L487.0 372.7 L487.5 372.8 L488.0 373.1 L488.5 373.4 L489.0 374.0 L489.5 374.5 L490.0 374.9 L490.5 375.1 L491.0 375.3 L491.5 375.5 L492.0 375.7 L492.5 375.8 L493.0 376.0 L493.5 376.3 L494.0 376.8 L494.5 377.1 L495.0 377.4 L495.5 378.0 L496.0 378.3 L496.5 378.5 L497.0 378.7 L497.5 378.9 L498.0 379.2 L498.5 379.7 L499.0 379.9 L499.5 380.2 L500.0 380.8 L500.5 381.3 L501.0 381.8 L501.5 382.2 L502.0 382.3 L502.5 382.3 L503.0 382.4 L503.5 382.8 L504.0 382.9 L504.5 382.9 L505.0 383.2 L505.5 383.4 L506.0 383.8 L506.5 384.1 L507.0 384.2 L507.5 384.5 L508.0 384.6 L508.5 384.7 L509.0 384.9 L509.5 385.2 L510.0 385.2 L510.5 385.4 L511.0 385.5 L511.5 385.7 L512.0 385.6 L512.5 385.8 L513.0 385.9 L513.5 385.8 L514.0 385.6 L514.5 385.7 L515.0 385.6 L515.5 385.8 L516.0 385.9 L516.5 385.8 L517.0 385.9 L517.5 386.2 L518.0 386.5 L518.5 386.9 L519.0 386.9 L519.5 386.9 L520.0 387.1 L520.5 387.2 L521.0 387.5 L521.5 387.6 L522.0 387.8 L522.5 388.1 L523.0 388.0 L523.5 388.2 L524.0 388.1 L524.5 388.1 L525.0 388.2 L525.5 388.0 L526.0 388.0 L526.5 388.4 L527.0 388.4 L527.5 388.5 L528.0 388.4 L528.5 388.3 L529.0 388.4 L529.5 388.7 L530.0 388.7 L530.5 389.0 L531.0 389.3 L531.5 389.4 L532.0 389.3 L532.5 389.6 L533.0 389.4 L533.5 389.4 L534.0 389.4 L534.5 389.3 L535.0 389.3 L535.5 389.4 L536.0 389.5 L536.5 389.9 L537.0 389.8 L537.5 390.1 L538.0 390.3 L538.5 390.4 L539.0 390.3 L539.5 390.4 L540.0 390.2 L540.5 390.6 L541.0 390.6 L541.5 390.5 L542.0 390.7 L542.5 391.1 L543.0 391.2 L543.5 391.5 L544.0 391.8 L544.5 391.8 L545.0 391.9 L545.5 392.3 L546.0 392.3 L546.5 392.4 L547.0 392.1 L547.5 392.0 L548.0 392.0 L548.5 392.0 L549.0 391.6 L549.5 391.6 L550.0 391.6 L550.5 391.6 L551.0 391.5 L551.5 391.7 L552.0 391.7 L552.5 391.8 L553.0 391.9 L553.5 391.8 L554.0 392.2 L554.5 392.2 L555.0 392.5 L555.5 392.9 L556.0 393.0 L556.5 393.2 L557.0 393.4 L557.5 393.3 L558.0 393.5 L558.5 393.5 L559.0 393.6 L559.5 394.0 L560.0 394.0 L560.5 394.1 L561.0 394.4 L561.5 394.7 L562.0 394.6 L562.5 394.7 L563.0 394.7 L563.5 395.1 L564.0 395.3 L564.5 395.2 L565.0 395.1 L565.5 395.7 L566.0 395.6 L566.5 395.4 L567.0 395.4 L567.5 395.4 L568.0 395.4 L568.5 395.4 L569.0 395.1 L569.5 395.0 L570.0 395.3 L570.5 395.3 L571.0 395.6 L571.5 395.8 L572.0 395.8 L572.5 396.1 L573.0 396.5 L573.5 396.9 L574.0 397.1 L574.5 397.2 L575.0 397.5 L575.5 397.9 L576.0 398.3 L576.5 398.2 L577.0 398.1 L577.5 398.3 L578.0 398.5 L578.5 398.7 L579.0 398.2 L579.5 398.0 L580.0 397.7 L580.5 397.8 L581.0 397.7 L581.5 397.5 L582.0 397.3 L582.5 397.8 L583.0 397.7 L583.5 398.3 L584.0 398.3 L584.5 398.3 L585.0 398.3 L585.5 398.4 L586.0 398.0 L586.5 398.2 L587.0 398.1 L587.5 398.0 L588.0 398.0 L588.5 398.1 L589.0 397.9 L589.5 398.0 L590.0 397.8 L590.5 397.6 L591.0 397.6 L591.5 397.4 L592.0 397.2 L592.5 397.4 L593.0 397.4 L593.5 397.5 L594.0 397.8 L594.5 397.7 L595.0 397.8 L595.5 397.7 L596.0 397.7 L596.5 397.8 L597.0 397.8 L597.5 397.4 L598.0 397.4 L598.5 397.5 L599.0 397.6 L599.5 397.6 L600.0 397.2 L600.5 397.0 L601.0 397.0 L601.5 396.9" fill="none" stroke="#6a0606" stroke-width="2.5" stroke-linejoin="round"/>
<path d="M222.8 175.9 L227.3 175.9 L225.1 186.6 Z" fill="#0c0c0c"/>
<path d="M223.8 23.9 L225.1 21.1 L226.4 23.9" fill="none" stroke="#666" stroke-width="0.8"/>
<path d="M223.8 405.2 L225.1 408.0 L226.4 405.2" fill="none" stroke="#555" stroke-width="0.8"/>
<text x="225.1" y="420.8" font-size="10" fill="#333" stroke="#333" stroke-width="0.2" text-anchor="middle" textLength="2.9" lengthAdjust="spacingAndGlyphs">4</text>
<path d="M304.7 242.8 L309.2 242.8 L307.0 253.5 Z" fill="#0c0c0c"/>
<path d="M305.7 23.9 L307.0 21.1 L308.3 23.9" fill="none" stroke="#666" stroke-width="0.8"/>
<path d="M305.7 405.2 L307.0 408.0 L308.3 405.2" fill="none" stroke="#555" stroke-width="0.8"/>
<text x="307.0" y="420.8" font-size="10" fill="#333" stroke="#333" stroke-width="0.2" text-anchor="middle" textLength="2.9" lengthAdjust="spacingAndGlyphs">5</text>
<path d="M386.6 303.6 L391.1 303.6 L388.8 314.3 Z" fill="#0c0c0c"/>
<path d="M387.5 23.9 L388.8 21.1 L390.1 23.9" fill="none" stroke="#666" stroke-width="0.8"/>
<path d="M387.5 405.2 L388.8 408.0 L390.1 405.2" fill="none" stroke="#555" stroke-width="0.8"/>
<text x="388.8" y="420.8" font-size="10" fill="#333" stroke="#333" stroke-width="0.2" text-anchor="middle" textLength="2.9" lengthAdjust="spacingAndGlyphs">6</text>
<path d="M468.4 352.2 L472.9 352.2 L470.7 362.9 Z" fill="#0c0c0c"/>
<path d="M469.4 23.9 L470.7 21.1 L472.0 23.9" fill="none" stroke="#666" stroke-width="0.8"/>
<path d="M469.4 405.2 L470.7 408.0 L472.0 405.2" fill="none" stroke="#555" stroke-width="0.8"/>
<text x="470.7" y="420.8" font-size="10" fill="#333" stroke="#333" stroke-width="0.2" text-anchor="middle" textLength="2.9" lengthAdjust="spacingAndGlyphs">7</text>
<path d="M550.3 384.8 L554.8 384.8 L552.6 395.5 Z" fill="#0c0c0c"/>
<path d="M551.3 23.9 L552.6 21.1 L553.9 23.9" fill="none" stroke="#666" stroke-width="0.8"/>
<path d="M551.3 405.2 L552.6 408.0 L553.9 405.2" fill="none" stroke="#555" stroke-width="0.8"/>
<text x="552.6" y="420.8" font-size="10" fill="#333" stroke="#333" stroke-width="0.2" text-anchor="middle" textLength="2.9" lengthAdjust="spacingAndGlyphs">8</text>
<text x="32" y="40.8" font-size="10.2" fill="#666" stroke="#666" stroke-width="0.22" text-anchor="end" textLength="9.2" lengthAdjust="spacingAndGlyphs">-30</text>
<text x="32" y="64.6" font-size="10.2" fill="#666" stroke="#666" stroke-width="0.22" text-anchor="end" textLength="9.2" lengthAdjust="spacingAndGlyphs">-40</text>
<text x="32" y="88.4" font-size="10.2" fill="#666" stroke="#666" stroke-width="0.22" text-anchor="end" textLength="9.2" lengthAdjust="spacingAndGlyphs">-50</text>
<text x="32" y="112.2" font-size="10.2" fill="#666" stroke="#666" stroke-width="0.22" text-anchor="end" textLength="9.2" lengthAdjust="spacingAndGlyphs">-60</text>
<text x="32" y="136.0" font-size="10.2" fill="#666" stroke="#666" stroke-width="0.22" text-anchor="end" textLength="9.2" lengthAdjust="spacingAndGlyphs">-70</text>
<text x="32" y="159.8" font-size="10.2" fill="#666" stroke="#666" stroke-width="0.22" text-anchor="end" textLength="9.2" lengthAdjust="spacingAndGlyphs">-80</text>
<text x="32" y="183.6" font-size="10.2" fill="#666" stroke="#666" stroke-width="0.22" text-anchor="end" textLength="9.2" lengthAdjust="spacingAndGlyphs">-90</text>
<text x="32" y="207.5" font-size="10.2" fill="#666" stroke="#666" stroke-width="0.22" text-anchor="end" textLength="12.6" lengthAdjust="spacingAndGlyphs">-100</text>
<text x="32" y="231.3" font-size="10.2" fill="#666" stroke="#666" stroke-width="0.22" text-anchor="end" textLength="12.6" lengthAdjust="spacingAndGlyphs">-110</text>
<text x="32" y="255.1" font-size="10.2" fill="#666" stroke="#666" stroke-width="0.22" text-anchor="end" textLength="12.6" lengthAdjust="spacingAndGlyphs">-120</text>
<text x="32" y="278.9" font-size="10.2" fill="#666" stroke="#666" stroke-width="0.22" text-anchor="end" textLength="12.6" lengthAdjust="spacingAndGlyphs">-130</text>
<text x="32" y="302.7" font-size="10.2" fill="#666" stroke="#666" stroke-width="0.22" text-anchor="end" textLength="12.6" lengthAdjust="spacingAndGlyphs">-140</text>
<text x="32" y="326.5" font-size="10.2" fill="#666" stroke="#666" stroke-width="0.22" text-anchor="end" textLength="12.6" lengthAdjust="spacingAndGlyphs">-150</text>
<text x="32" y="350.4" font-size="10.2" fill="#666" stroke="#666" stroke-width="0.22" text-anchor="end" textLength="12.6" lengthAdjust="spacingAndGlyphs">-160</text>
<text x="32" y="374.2" font-size="10.2" fill="#666" stroke="#666" stroke-width="0.22" text-anchor="end" textLength="12.6" lengthAdjust="spacingAndGlyphs">-170</text>
<text x="32" y="398.0" font-size="10.2" fill="#666" stroke="#666" stroke-width="0.22" text-anchor="end" textLength="12.6" lengthAdjust="spacingAndGlyphs">-180</text>
<text x="32" y="421.8" font-size="10.2" fill="#666" stroke="#666" stroke-width="0.22" text-anchor="end" textLength="12.6" lengthAdjust="spacingAndGlyphs">-190</text>
<text x="61.3" y="434.6" font-size="10.4" fill="#606060" stroke="#606060" stroke-width="0.22" text-anchor="middle" textLength="10.4" lengthAdjust="spacingAndGlyphs">1E1</text>
<text x="143.2" y="434.6" font-size="10.4" fill="#606060" stroke="#606060" stroke-width="0.22" text-anchor="middle" textLength="10.4" lengthAdjust="spacingAndGlyphs">1E2</text>
<text x="225.1" y="434.6" font-size="10.4" fill="#606060" stroke="#606060" stroke-width="0.22" text-anchor="middle" textLength="10.4" lengthAdjust="spacingAndGlyphs">1E3</text>
<text x="307.0" y="434.6" font-size="10.4" fill="#606060" stroke="#606060" stroke-width="0.22" text-anchor="middle" textLength="10.4" lengthAdjust="spacingAndGlyphs">1E4</text>
<text x="388.8" y="434.6" font-size="10.4" fill="#606060" stroke="#606060" stroke-width="0.22" text-anchor="middle" textLength="10.4" lengthAdjust="spacingAndGlyphs">1E5</text>
<text x="470.7" y="434.6" font-size="10.4" fill="#606060" stroke="#606060" stroke-width="0.22" text-anchor="middle" textLength="10.4" lengthAdjust="spacingAndGlyphs">1E6</text>
<text x="552.6" y="434.6" font-size="10.4" fill="#606060" stroke="#606060" stroke-width="0.22" text-anchor="middle" textLength="10.4" lengthAdjust="spacingAndGlyphs">1E7</text>
<text x="332.4" y="453.3" font-size="13" fill="#111" stroke="#111" stroke-width="0.15" text-anchor="middle" textLength="71" lengthAdjust="spacingAndGlyphs">Offset Frequency [ ]</text>
<text transform="translate(15.3,220.3) rotate(-90) scale(1,0.73)" x="0" y="0" font-size="12" font-weight="bold" fill="#333" text-anchor="middle" textLength="120" lengthAdjust="spacingAndGlyphs">SSB Phase Noise [ ]</text>
<text x="35.2" y="18.5" font-size="7.8" fill="#3a3a3a" textLength="152.4" lengthAdjust="spacingAndGlyphs">9/2/24 2:52 PM - APPH20G 223-03D306F00-0407 (v0.4.178) - GUI v1.3.22</text>
<rect x="499.3" y="26.2" width="126.6" height="69.7" fill="#ffe0e0" stroke="#d9c4c4" stroke-width="0.8"/>
<text x="501" y="40.0" font-size="10.3" fill="#777" textLength="41.2" lengthAdjust="spacingAndGlyphs">DUT Frequency</text>
<text x="555.1" y="40.0" font-size="10.3" fill="#777" textLength="48.9" lengthAdjust="spacingAndGlyphs">2.192514961 GHz</text>
<text x="501" y="57.0" font-size="10.3" fill="#777" textLength="31" lengthAdjust="spacingAndGlyphs">DUT Power</text>
<text x="555.1" y="57.0" font-size="10.3" fill="#777" textLength="22.5" lengthAdjust="spacingAndGlyphs">3.4 dBm</text>
<text x="501" y="74.0" font-size="10.3" fill="#777" textLength="51.5" lengthAdjust="spacingAndGlyphs">Measurement Time</text>
<text x="555.1" y="74.0" font-size="10.3" fill="#777" textLength="9.5" lengthAdjust="spacingAndGlyphs">20s</text>
<text x="501" y="91.0" font-size="10.3" fill="#777" textLength="13" lengthAdjust="spacingAndGlyphs">Date</text>
<text x="555.1" y="91.0" font-size="10.3" fill="#777" textLength="41" lengthAdjust="spacingAndGlyphs">9/2/24 2:52 PM</text>
<path d="M621.8 30.6 L624.2 33.0 M624.2 30.6 L621.8 33.0" stroke="#aaa" stroke-width="0.8"/>
<rect x="499.3" y="99.6" width="126.6" height="108.9" fill="#ffe0e0" stroke="#d9c4c4" stroke-width="0.8"/>
<text x="500.7" y="113.6" font-size="10.3" fill="#777" textLength="21.8" lengthAdjust="spacingAndGlyphs">Markers</text>
<rect x="527.3" y="106.6" width="4.6" height="7.2" fill="#f08a8a" stroke="#d87070" stroke-width="0.5"/>
<path d="M528.3 108.4 L530.9 112 M530.9 108.4 L528.3 112" stroke="#7a3030" stroke-width="0.7"/>
<text x="534.4" y="113.6" font-size="10.3" fill="#b0a8a8" textLength="13.5" lengthAdjust="spacingAndGlyphs">show</text>
<rect x="556.5" y="106.6" width="4.5" height="7.2" fill="#f4a0a0" stroke="#e08888" stroke-width="0.5"/>
<text x="562.3" y="113.6" font-size="10.3" fill="#b0a8a8" textLength="14" lengthAdjust="spacingAndGlyphs">value</text>
<rect x="585.4" y="102.6" width="20.8" height="14.7" fill="#f99c9c" stroke="#e07878" stroke-width="0.7"/>
<text x="595.8" y="113.6" font-size="10.3" fill="#e05656" text-anchor="middle" textLength="16.4" lengthAdjust="spacingAndGlyphs">default</text>
<rect x="613.9" y="106.9" width="5" height="6.6" fill="#f4a0a0" stroke="#e08888" stroke-width="0.5"/>
<path d="M615.2 110.2 L617.6 110.2" stroke="#a05050" stroke-width="0.7"/>
<path d="M621.4 102.8 L623.8 105.2 M623.8 102.8 L621.4 105.2" stroke="#aaa" stroke-width="0.8"/>
<text x="501.2" y="133.8" font-size="9.8" font-weight="bold" fill="#86a662" textLength="3.0" lengthAdjust="spacingAndGlyphs">4</text>
<rect x="516.1" y="123.7" width="32.8" height="13.7" fill="#f7a3a3" stroke="#dc8484" stroke-width="0.7"/>
<text x="546.0" y="134.1" font-size="10.3" fill="#d87878" text-anchor="end" textLength="23.4" lengthAdjust="spacingAndGlyphs">1.00 kHz</text>
<text x="601.7" y="134.1" font-size="10.3" fill="#777" text-anchor="end" textLength="35" lengthAdjust="spacingAndGlyphs">-92.8 dBc/Hz</text>
<rect x="613.9" y="127.1" width="5" height="6.8" fill="#f4a0a0" stroke="#e08888" stroke-width="0.5"/>
<path d="M615.2 130.5 L617.6 130.5" stroke="#a05050" stroke-width="0.7"/>
<text x="501.2" y="150.8" font-size="9.8" font-weight="bold" fill="#86a662" textLength="3.0" lengthAdjust="spacingAndGlyphs">5</text>
<rect x="516.1" y="140.6" width="32.8" height="13.7" fill="#f7a3a3" stroke="#dc8484" stroke-width="0.7"/>
<text x="546.0" y="151.0" font-size="10.3" fill="#d87878" text-anchor="end" textLength="23.4" lengthAdjust="spacingAndGlyphs">10.0 kHz</text>
<text x="601.7" y="151.0" font-size="10.3" fill="#777" text-anchor="end" textLength="38.3" lengthAdjust="spacingAndGlyphs">-120.9 dBc/Hz</text>
<rect x="613.9" y="144.0" width="5" height="6.8" fill="#f4a0a0" stroke="#e08888" stroke-width="0.5"/>
<path d="M615.2 147.4 L617.6 147.4" stroke="#a05050" stroke-width="0.7"/>
<text x="501.2" y="167.7" font-size="9.8" font-weight="bold" fill="#86a662" textLength="3.0" lengthAdjust="spacingAndGlyphs">6</text>
<rect x="516.1" y="157.6" width="32.8" height="13.7" fill="#f7a3a3" stroke="#dc8484" stroke-width="0.7"/>
<text x="546.0" y="168.0" font-size="10.3" fill="#d87878" text-anchor="end" textLength="20.6" lengthAdjust="spacingAndGlyphs">100 kHz</text>
<text x="601.7" y="168.0" font-size="10.3" fill="#777" text-anchor="end" textLength="38.3" lengthAdjust="spacingAndGlyphs">-146.4 dBc/Hz</text>
<rect x="613.9" y="161.0" width="5" height="6.8" fill="#f4a0a0" stroke="#e08888" stroke-width="0.5"/>
<path d="M615.2 164.4 L617.6 164.4" stroke="#a05050" stroke-width="0.7"/>
<text x="501.2" y="184.7" font-size="9.8" font-weight="bold" fill="#949494" textLength="3.0" lengthAdjust="spacingAndGlyphs">7</text>
<rect x="516.1" y="174.5" width="32.8" height="13.7" fill="#f7a3a3" stroke="#dc8484" stroke-width="0.7"/>
<text x="546.0" y="184.9" font-size="10.3" fill="#d87878" text-anchor="end" textLength="26" lengthAdjust="spacingAndGlyphs">1.00 MHz</text>
<text x="601.7" y="184.9" font-size="10.3" fill="#777" text-anchor="end" textLength="38.3" lengthAdjust="spacingAndGlyphs">-166.8 dBc/Hz</text>
<rect x="613.9" y="177.9" width="5" height="6.8" fill="#f4a0a0" stroke="#e08888" stroke-width="0.5"/>
<path d="M615.2 181.3 L617.6 181.3" stroke="#a05050" stroke-width="0.7"/>
<text x="501.2" y="201.6" font-size="9.8" font-weight="bold" fill="#86a662" textLength="3.0" lengthAdjust="spacingAndGlyphs">8</text>
<rect x="516.1" y="191.5" width="32.8" height="13.7" fill="#f7a3a3" stroke="#dc8484" stroke-width="0.7"/>
<text x="546.0" y="201.9" font-size="10.3" fill="#d87878" text-anchor="end" textLength="26" lengthAdjust="spacingAndGlyphs">10.0 MHz</text>
<text x="601.7" y="201.9" font-size="10.3" fill="#777" text-anchor="end" textLength="38.3" lengthAdjust="spacingAndGlyphs">-180.5 dBc/Hz</text>
<rect x="613.9" y="194.9" width="5" height="6.8" fill="#f4a0a0" stroke="#e08888" stroke-width="0.5"/>
<path d="M615.2 198.3 L617.6 198.3" stroke="#a05050" stroke-width="0.7"/>
</svg></body></html>
